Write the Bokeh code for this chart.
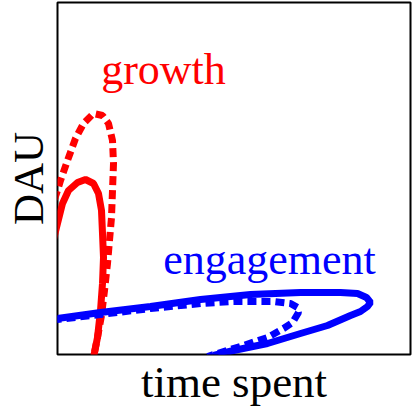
from bokeh.plotting import figure
from bokeh.models import Label, Range1d, LinearAxis, FixedTicker
from bokeh.embed import file_html
from bokeh.resources import INLINE

# Curves (x: time spent, y: DAU; arbitrary units)
growth_solid_x = [-4, 0, 5, 11, 20, 28, 36, 41, 44, 45, 46, 45, 43, 40, 36]
growth_solid_y = [115, 131, 151, 164, 172, 175, 171, 161, 144, 121, 97, 71, 44, 17, -3]

growth_dash_x = [-3, 0, 3, 10, 18, 26, 36, 45, 51, 55, 56, 55, 54, 52, 50, 47, 44, 40, 36]
growth_dash_y = [155, 164, 174, 194, 216, 231, 241, 239, 231, 214, 191, 164, 137, 114, 91, 64, 39, 17, -3]

engage_solid_x = [-5, 0, 43, 93, 143, 193, 243, 283, 300, 309, 313, 310, 303, 293, 270, 243, 210, 176, 156]
engage_solid_y = [35, 36, 42, 48, 55, 60, 62, 62, 61, 57, 52, 48, 43, 39, 29, 21, 11, 4, -1]

engage_dash_x = [-5, 0, 43, 93, 143, 176, 216, 233, 240, 241, 235, 226, 210, 186, 163, 150]
engage_dash_y = [34, 35, 40, 46, 51, 53, 53, 51, 47, 42, 32, 26, 17, 9, 2, -2]

labels = ["growth", "engagement"]
label_x = [106, 212]
label_y = [285, 95]
x_label = "time spent"
y_label = "DAU"

RED = "#ff0000"
BLUE = "#0000ff"
FONT = "Liberation Serif"

p = figure(width=412, height=419, output_backend="svg", toolbar_location=None,
           x_range=Range1d(0, 353), y_range=Range1d(0, 352),
           x_axis_type=None, y_axis_type=None,
           min_border_left=57, min_border_right=2, min_border_top=2, min_border_bottom=65)
p.grid.visible = False
p.outline_line_color = "black"
p.outline_line_width = 2
p.background_fill_color = "white"
p.border_fill_color = "white"

for loc, lab, standoff, fs in (("below", x_label, 2, "45px"), ("left", y_label, 6, "43px")):
    ax = LinearAxis(axis_label=lab, axis_label_text_font=FONT,
                    axis_label_text_font_size=fs, axis_label_text_color="black",
                    axis_label_text_font_style="normal", axis_label_standoff=standoff,
                    ticker=FixedTicker(ticks=[]), minor_tick_line_color=None,
                    axis_line_color=None, major_tick_line_color=None,
                    major_tick_out=0, major_tick_in=0, major_label_standoff=0)
    p.add_layout(ax, loc)

p.line(growth_solid_x, growth_solid_y, line_color=RED, line_width=7)
p.line(growth_dash_x, growth_dash_y, line_color=RED, line_width=7, line_dash="9 5")
p.line(engage_solid_x, engage_solid_y, line_color=BLUE, line_width=7)
p.line(engage_dash_x, engage_dash_y, line_color=BLUE, line_width=7, line_dash="9 5")

for t, x, y, c in zip(labels, label_x, label_y, [RED, BLUE]):
    p.add_layout(Label(x=x, y=y, text=t, text_color=c, text_font=FONT,
                       text_font_size="44px", text_align="center",
                       text_baseline="alphabetic"))

open("out.html", "w").write(file_html(p, INLINE))
